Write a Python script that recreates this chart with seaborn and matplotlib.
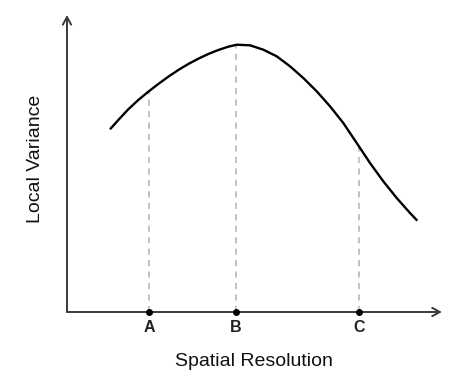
import matplotlib
matplotlib.use("Agg")
import matplotlib.pyplot as plt
import seaborn as sns
import pandas as pd

# Curve (x: spatial resolution, y: local variance), arbitrary units
curve_x = [43, 51.3, 61.3, 71.3, 81.3, 91.3, 101.3, 111.3, 121.3, 131.3, 141.3, 151.3,
           161.3, 169.7, 183, 196.3, 209.7, 223, 236.3, 249.7, 263, 276.3, 289.7, 303,
           316.3, 329.7, 343, 350.3]
curve_y = [182.7, 192, 202.7, 212, 220.3, 228, 235.3, 242, 248, 253.3, 258, 262,
           265.3, 267.3, 266.7, 262.3, 255.7, 245.7, 234, 220.7, 205.7, 189, 169, 149,
           130.7, 114, 99, 91.3]

# Marked resolutions and the curve value at each
mark_labels = ["A", "B", "C"]
mark_x = [82, 169, 292]
mark_y = [220, 267, 165]

x_label = "Spatial Resolution"
y_label = "Local Variance"

sns.set_style("white")
plt.rcParams["font.family"] = ["Liberation Sans", "DejaVu Sans"]

W, H = 474, 388
fig = plt.figure(figsize=(W / 100, H / 100), dpi=100)
left, right, bottom, top = 67, 440, 312, 15
ax = fig.add_axes([left / W, (H - bottom) / H, (right - left) / W, (bottom - top) / H])
ax.set_xlim(0, right - left)
ax.set_ylim(0, bottom - top)

df = pd.DataFrame({"x": curve_x, "y": curve_y})
sns.lineplot(data=df, x="x", y="y", ax=ax, color="black", linewidth=1.7,
             sort=False, solid_joinstyle="round", solid_capstyle="butt")

for mx, my in zip(mark_x, mark_y):
    ax.plot([mx, mx], [0, my], color="#b0b0b0", linewidth=1.1,
            linestyle=(0, (4, 3.5)), zorder=1)
ax.scatter(mark_x, [0] * len(mark_x), s=16, color="black", zorder=5, clip_on=False)

for s in ax.spines.values():
    s.set_visible(False)

axis_col = "#3a3a3a"
ax.annotate("", xy=(1.005, 0), xytext=(0, 0), xycoords="axes fraction",
            arrowprops=dict(arrowstyle="->,head_length=0.55,head_width=0.3",
                            color=axis_col, lw=1.4, shrinkA=0, shrinkB=0))
ax.annotate("", xy=(0, 1.0), xytext=(0, 0), xycoords="axes fraction",
            arrowprops=dict(arrowstyle="->,head_length=0.55,head_width=0.3",
                            color=axis_col, lw=1.4, shrinkA=0, shrinkB=0))

ax.set_xticks(mark_x)
ax.set_xticklabels(mark_labels, fontsize=11.5, fontweight="bold", color="#222222")
ax.tick_params(axis="x", length=0, pad=6)
ax.set_yticks([])

ax.set_xlabel(x_label, fontsize=14, labelpad=13, color="#111111")
ax.set_ylabel(y_label, fontsize=14, color="#111111")
ax.yaxis.set_label_coords(-0.062, 0.515)

fig.savefig("out.png", dpi=100)
